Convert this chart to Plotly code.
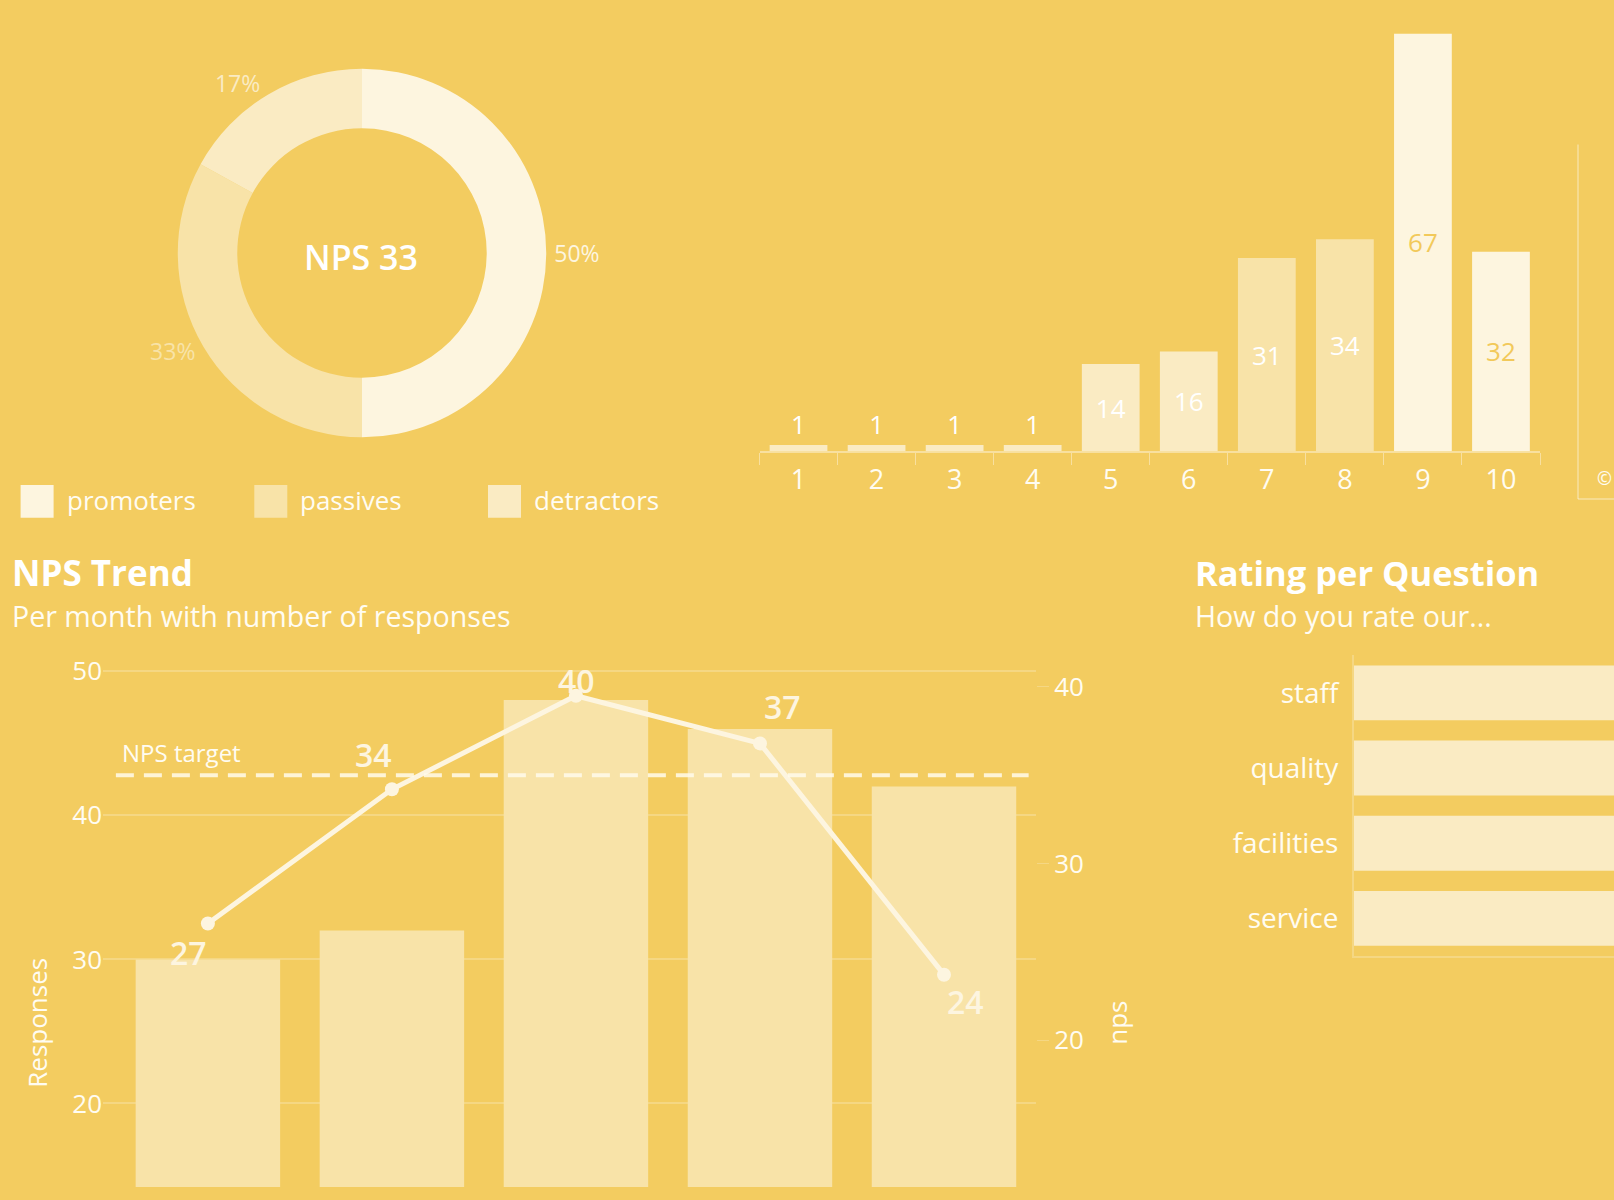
import plotly.graph_objects as go

W, H = 1614, 1200
BG = "#F3CC60"
TXT = "#FFFCF2"
GRID = "rgba(255,255,255,0.22)"
AXIS = "rgba(255,255,255,0.4)"
FONT = "Open Sans"

# --- data -------------------------------------------------------------
segments = ["promoters", "passives", "detractors"]
segment_share = [50, 33, 17]
segment_colors = ["#FDF5DF", "#F8E3A8", "#FAEBC3"]
nps_score = 33

scores = ["1", "2", "3", "4", "5", "6", "7", "8", "9", "10"]
score_counts = [1, 1, 1, 1, 14, 16, 31, 34, 67, 32]

months = ["Jan", "Feb", "Mar", "Apr", "May"]
responses = [30, 32, 48, 46, 42]
nps_trend = [26.6, 34.2, 39.5, 36.8, 23.7]
nps_target = 35

questions = ["staff", "quality", "facilities", "service"]
ratings = [8.6, 8.3, 8.1, 8.4]


def px(x):
    return x / W


def py(y):
    return 1 - y / H


def score_color(s):
    s = int(s)
    if s >= 9:
        return segment_colors[0]
    if s >= 7:
        return segment_colors[1]
    return segment_colors[2]


def note(x, y, text, size, **kw):
    # annotation placed in pixel coords of the page
    d = dict(x=px(x), y=py(y), xref="paper", yref="paper", text=text,
             showarrow=False, xanchor="center", yanchor="middle",
             font=dict(size=size, color=TXT))
    d.update(kw)
    return d


fig = go.Figure()

# donut
fig.add_trace(go.Pie(
    labels=segments, values=segment_share, hole=0.677, sort=False,
    direction="clockwise", rotation=0,
    marker=dict(colors=segment_colors, line=dict(width=0)),
    texttemplate="%{value}%", textposition="outside",
    textfont=dict(size=23, color=segment_colors),
    showlegend=False, hoverinfo="label+percent",
    domain=dict(x=[px(177), px(547)], y=[py(434), py(64)]),
))

# score distribution
fig.add_trace(go.Bar(
    x=scores, y=score_counts, width=0.74,
    marker=dict(color=[score_color(s) for s in scores], line=dict(width=0)),
    text=[str(c) for c in score_counts],
    textposition=["outside" if c < 5 else "inside" for c in score_counts],
    insidetextanchor="middle", constraintext="none", cliponaxis=False,
    textfont=dict(size=26, color=["#F2C95A" if int(s) >= 9 else "white" for s in scores]),
    showlegend=False, xaxis="x", yaxis="y",
))

# trend: responses + nps
fig.add_trace(go.Bar(
    x=months, y=responses, width=0.785,
    marker=dict(color=segment_colors[1], line=dict(width=0)),
    name="Responses", showlegend=False, xaxis="x2", yaxis="y2",
))
fig.add_trace(go.Scatter(
    x=months, y=nps_trend, mode="lines+markers",
    line=dict(color="#FDF5E0", width=5),
    marker=dict(size=14, color="#FDF5E0"),
    name="nps", showlegend=False, xaxis="x2", yaxis="y3",
))

# rating per question
fig.add_trace(go.Bar(
    x=ratings, y=questions, orientation="h", width=0.73,
    marker=dict(color=segment_colors[2], line=dict(width=0)),
    showlegend=False, xaxis="x4", yaxis="y4",
))

annotations = [
    note(361, 253, f"NPS {nps_score}", 34, font=dict(size=34, color="white", weight=600)),
    note(10, 570, "NPS Trend", 34, xanchor="left",
         font=dict(size=35, color="white", weight="bold")),
    note(10, 613, "Per month with number of responses", 28.6, xanchor="left"),
    note(1193, 570, "Rating per Question", 34, xanchor="left",
         font=dict(size=34.5, color="white", weight="bold")),
    note(1193, 613, "How do you rate our...", 28.6, xanchor="left"),
    note(37, 1022, "Responses", 26, textangle=-90),
    note(1117, 1022, "nps", 26, textangle=-90),
    note(1604, 475, "©", 18),
    dict(x=-0.48, y=nps_target, xref="x2", yref="y3", text="NPS target",
         xanchor="left", yanchor="bottom", yshift=4, showarrow=False,
         font=dict(size=24, color=TXT)),
]

# labels on the nps line
label_offsets = [(-19, 29), (-18, -35), (1, -15), (23, -37), (22, 27)]
for m, v, (dx, dy) in zip(months, nps_trend, label_offsets):
    annotations.append(dict(
        x=m, y=v, xref="x2", yref="y3", text=str(round(v)), showarrow=False,
        xanchor="center", yanchor="middle", xshift=dx, yshift=-dy,
        font=dict(size=32, color="#FDF5E0", weight=600),
    ))

# manual legend for the donut
shapes = []
for i, (name, col) in enumerate(zip(segments, segment_colors)):
    x0 = 20.6 + 233.7 * i
    shapes.append(dict(type="rect", xref="paper", yref="paper",
                       x0=px(x0), x1=px(x0 + 33), y0=py(515), y1=py(482),
                       fillcolor=col, line=dict(width=0)))
    annotations.append(note(x0 + 44, 497, name, 26, xanchor="left"))

# target line
shapes.append(dict(type="line", xref="x2", yref="y3", x0=-0.5, x1=4.46,
                   y0=nps_target, y1=nps_target,
                   line=dict(color="rgba(255,250,235,0.85)", width=4, dash="18px,10px")))

# frame of the cut-off panel at the right edge
shapes.append(dict(type="line", xref="paper", yref="paper", x0=px(1578), x1=px(1578),
                   y0=py(140), y1=py(496), line=dict(color=AXIS, width=1.5)))
shapes.append(dict(type="line", xref="paper", yref="paper", x0=px(1578), x1=1,
                   y0=py(496), y1=py(496), line=dict(color=AXIS, width=1.5)))

fig.update_layout(
    width=W, height=H,
    margin=dict(l=0, r=0, t=0, b=0),
    paper_bgcolor=BG, plot_bgcolor="rgba(0,0,0,0)",
    font=dict(family=FONT, color=TXT),
    annotations=annotations, shapes=shapes,
    xaxis=dict(domain=[px(759.5), px(1540)], anchor="y", type="category",
               showline=True, linecolor=AXIS, linewidth=2,
               ticks="outside", tickson="boundaries", ticklen=12, tickcolor=AXIS,
               ticklabelstandoff=3,
               tickfont=dict(size=27, color=TXT), showgrid=False, fixedrange=True),
    yaxis=dict(domain=[py(448), py(7)], anchor="x", range=[0, 70.5], visible=False),
    xaxis2=dict(domain=[px(103), px(1036)], anchor="y2", range=[-0.57, 4.5],
                showticklabels=False, showgrid=False, zeroline=False),
    yaxis2=dict(domain=[py(1187), py(655)], anchor="x2", range=[14.2, 50.97],
                tick0=0, dtick=10, gridcolor=GRID, gridwidth=2, zeroline=False,
                showline=False, tickfont=dict(size=26, color=TXT)),
    yaxis3=dict(overlaying="y2", side="right", anchor="x2", range=[11.67, 41.68],
                tick0=0, dtick=10, showgrid=False, zeroline=False,
                ticks="outside", ticklen=12, tickcolor=GRID,
                tickfont=dict(size=26, color=TXT)),
    xaxis4=dict(domain=[px(1354), 1], anchor="y4", range=[0, 4.5],
                showline=True, linecolor=GRID, linewidth=2,
                showticklabels=False, showgrid=False, zeroline=False),
    yaxis4=dict(domain=[py(955), py(653)], anchor="x4", type="category",
                categoryorder="array", categoryarray=questions, autorange="reversed",
                showline=True, linecolor=GRID, linewidth=2, ticks="",
                ticklabelstandoff=8, tickfont=dict(size=28, color=TXT)),
)

# page margin off so the figure sits flush in the window
fig.write_html("out.html", config={"displayModeBar": False},
               post_script="document.body.style.margin='0';")
